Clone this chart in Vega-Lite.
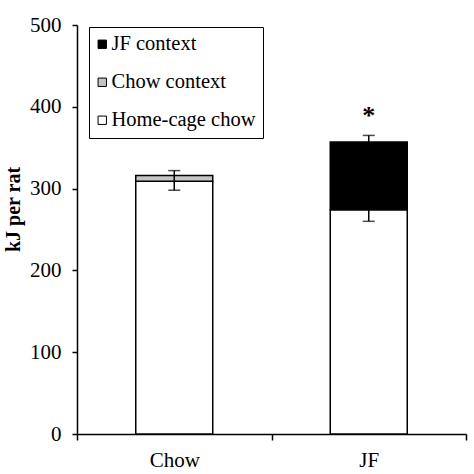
{
  "$schema": "https://vega.github.io/schema/vega-lite/v6.json",
  "width": 389,
  "height": 409,
  "autosize": "none",
  "padding": {"left": 77, "top": 25, "right": 8, "bottom": 40},
  "background": "white",
  "config": {
    "view": {"stroke": null},
    "font": "Liberation Serif",
    "axis": {"labelFont": "Liberation Serif", "titleFont": "Liberation Serif", "labelColor": "black", "titleColor": "black", "domainColor": "black", "tickColor": "black", "domainWidth": 1.5, "tickWidth": 1.5, "grid": false}
  },
  "datasets": {
    "bars": [
      {"group": "Chow", "component": "Home-cage chow", "ord": 1, "value": 309},
      {"group": "Chow", "component": "Chow context", "ord": 2, "value": 7},
      {"group": "JF", "component": "Home-cage chow", "ord": 1, "value": 274},
      {"group": "JF", "component": "JF context", "ord": 3, "value": 83}
    ],
    "errs": [
      {"group": "Chow", "low": 298, "high": 322},
      {"group": "JF", "low": 260, "high": 274},
      {"group": "JF", "low": 357, "high": 365}
    ],
    "caps": [
      {"group": "Chow", "v": 298},
      {"group": "Chow", "v": 322},
      {"group": "JF", "v": 260},
      {"group": "JF", "v": 365}
    ],
    "sig": [
      {"group": "JF", "y": 389, "label": "*"}
    ]
  },
  "layer": [
    {
      "data": {"name": "bars"},
      "mark": {"type": "bar", "width": 77, "stroke": "black", "strokeWidth": 1.5},
      "encoding": {
        "x": {
          "field": "group", "type": "nominal", "sort": ["Chow", "JF"],
          "scale": {"paddingInner": 0, "paddingOuter": 0},
          "axis": {"title": null, "labelAngle": 0, "labelFontSize": 21, "tickBand": "extent", "tickSize": 6, "labelPadding": 9}
        },
        "y": {
          "field": "value", "type": "quantitative", "stack": "zero",
          "scale": {"domain": [0, 500], "nice": false},
          "axis": {"title": "kJ per rat", "values": [0, 100, 200, 300, 400, 500], "labelFontSize": 21, "tickSize": 5, "labelPadding": 11, "titleFontSize": 20, "titleFontWeight": "bold", "titleX": -64, "titleY": 184, "titleBaseline": "middle"}
        },
        "color": {
          "field": "component", "type": "nominal",
          "scale": {"domain": ["JF context", "Chow context", "Home-cage chow"], "range": ["#000000", "#c4c4c4", "#ffffff"]},
          "legend": {
            "title": null, "orient": "none", "legendX": 12, "legendY": 2,
            "strokeColor": "black", "fillColor": "white", "padding": 7,
            "symbolType": "square", "symbolSize": 70, "symbolStrokeColor": "black", "symbolStrokeWidth": 1, "symbolOffset": -4,
            "labelFont": "Times", "labelFontSize": 20.5, "labelColor": "black", "labelOffset": -1,
            "rowPadding": 17
          }
        },
        "order": {"field": "ord", "type": "quantitative"}
      }
    },
    {
      "data": {"name": "errs"},
      "mark": {"type": "rule", "color": "black", "strokeWidth": 1.5},
      "encoding": {
        "x": {"field": "group", "type": "nominal"},
        "y": {"field": "low", "type": "quantitative"},
        "y2": {"field": "high"}
      }
    },
    {
      "data": {"name": "caps"},
      "mark": {"type": "tick", "color": "black", "size": 12, "thickness": 1.5, "orient": "horizontal"},
      "encoding": {
        "x": {"field": "group", "type": "nominal"},
        "y": {"field": "v", "type": "quantitative"}
      }
    },
    {
      "data": {"name": "sig"},
      "mark": {"type": "text", "fontSize": 26, "font": "Liberation Serif", "fontWeight": "bold", "baseline": "middle", "color": "black"},
      "encoding": {
        "x": {"field": "group", "type": "nominal"},
        "y": {"field": "y", "type": "quantitative"},
        "text": {"field": "label"}
      }
    }
  ]
}
